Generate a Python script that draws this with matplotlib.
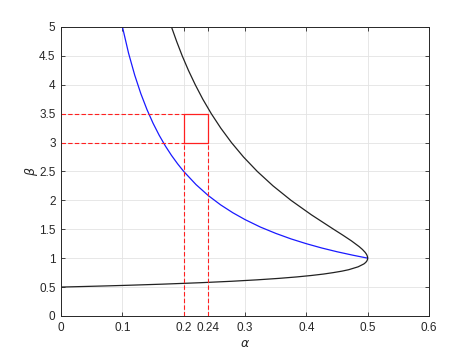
import matplotlib
matplotlib.use("Agg")
import matplotlib.pyplot as plt

# blue curve (alpha, beta)
blue_alpha = [0.100, 0.110, 0.120, 0.130, 0.140, 0.150, 0.160, 0.170, 0.180, 0.190,
              0.200, 0.220, 0.240, 0.260, 0.280, 0.300, 0.325, 0.350, 0.375, 0.400,
              0.425, 0.450, 0.475, 0.500]
blue_beta = [5.000, 4.545, 4.167, 3.846, 3.571, 3.333, 3.125, 2.941, 2.778, 2.632,
             2.500, 2.273, 2.083, 1.923, 1.786, 1.667, 1.538, 1.429, 1.333, 1.250,
             1.176, 1.111, 1.053, 1.000]

# black curve (alpha, beta), lower branch then upper branch
black_beta = [0.500, 0.505, 0.510, 0.520, 0.530, 0.550, 0.575, 0.600, 0.625, 0.650,
              0.675, 0.700, 0.725, 0.750, 0.775, 0.800, 0.850, 0.900, 0.925, 0.950,
              0.975, 1.000, 1.025, 1.050, 1.075, 1.100, 1.150, 1.200, 1.300, 1.400,
              1.500, 1.750, 2.000, 2.250, 2.500, 2.750, 3.000, 3.250, 3.500, 3.750,
              4.000, 4.250, 4.500, 4.750, 5.000]
black_alpha = [0.0000, 0.0196, 0.0384, 0.0740, 0.1068, 0.1650, 0.2268, 0.2780, 0.3200, 0.3550,
               0.3841, 0.4080, 0.4281, 0.4440, 0.4579, 0.4690, 0.4844, 0.4938, 0.4967, 0.4986,
               0.4997, 0.5000, 0.4997, 0.4989, 0.4976, 0.4959, 0.4915, 0.4861, 0.4734, 0.4592,
               0.4444, 0.4082, 0.3750, 0.3457, 0.3200, 0.2975, 0.2778, 0.2604, 0.2449, 0.2311,
               0.2188, 0.2076, 0.1975, 0.1884, 0.1800]

# highlighted box
box_alpha = [0.2, 0.24]
box_beta = [3.0, 3.5]

xticks = [0, 0.1, 0.2, 0.24, 0.3, 0.4, 0.5, 0.6]
xticklabels = ['0', '0.1', '0.2', '0.24', '0.3', '0.4', '0.5', '0.6']
yticks = [0, 0.5, 1, 1.5, 2, 2.5, 3, 3.5, 4, 4.5, 5]
yticklabels = ['0', '0.5', '1', '1.5', '2', '2.5', '3', '3.5', '4', '4.5', '5']

plt.rcParams['font.family'] = ['Liberation Sans', 'DejaVu Sans']
plt.rcParams['mathtext.fontset'] = 'dejavusans'

fig = plt.figure(figsize=(4.74, 3.55), dpi=100)
ax = fig.add_axes([0.129, 0.110, 0.776, 0.814])

ax.plot(blue_alpha, blue_beta, color='#1a1aff', lw=0.9)
ax.plot(black_alpha, black_beta, color='#222222', lw=0.9)

red = '#ff2020'
a0, a1 = box_alpha
b0, b1 = box_beta
# dashed guides
ax.plot([0, a0], [b0, b0], color=red, ls=(0, (4, 2)), lw=0.8)
ax.plot([0, a0], [b1, b1], color=red, ls=(0, (4, 2)), lw=0.8)
ax.plot([a0, a0], [0, b0], color=red, ls=(0, (4, 2)), lw=0.8)
ax.plot([a1, a1], [0, b0], color=red, ls=(0, (4, 2)), lw=0.8)
# solid box
ax.plot([a0, a1, a1, a0, a0], [b0, b0, b1, b1, b0], color=red, lw=0.9)

ax.set_xlim(0, 0.6)
ax.set_ylim(0, 5)
ax.set_xticks(xticks)
ax.set_xticklabels(xticklabels)
ax.set_yticks(yticks)
ax.set_yticklabels(yticklabels)
ax.grid(True, color='#e3e3e3', lw=0.6)
ax.set_axisbelow(True)

for s in ax.spines.values():
    s.set_color('#262626')
    s.set_linewidth(0.7)
ax.tick_params(direction='in', length=3, width=0.6, color='#262626',
               labelsize=8.5, labelcolor='#262626', top=True, right=True, pad=4)

ax.set_xlabel(r'$\alpha$', fontsize=9, color='#262626', labelpad=3)
ax.set_ylabel(r'$\beta$', fontsize=9, color='#262626', labelpad=-1)

fig.savefig('out.png', dpi=100)
